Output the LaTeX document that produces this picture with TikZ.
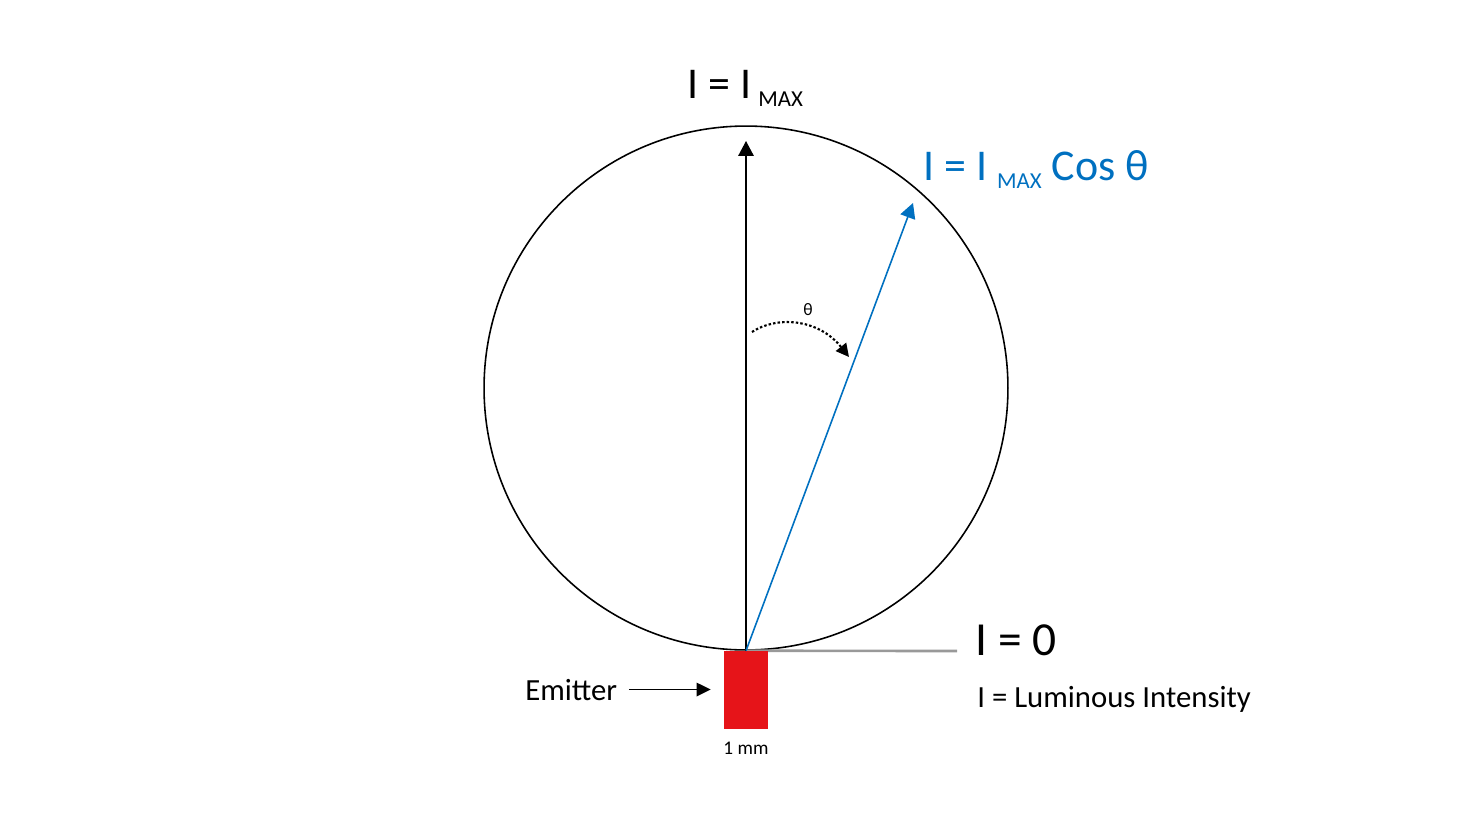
\documentclass[tikz,border=0pt]{standalone}
\usepackage{fontspec}
\setmainfont{Carlito}
\usetikzlibrary{arrows.meta,positioning}
\definecolor{beamblue}{RGB}{0,112,192}
\definecolor{chipred}{RGB}{230,20,25}
\newcommand\lowsub[1]{\raisebox{-0.2em}{\fontsize{13}{13}\selectfont #1}}

\begin{document}
\begin{tikzpicture}[x=0.02cm,y=-0.02cm,
            ray/.style={line width=0.9pt,-{Triangle[width=3.1mm,length=3mm]}},
            pointer/.style={line width=0.9pt,-{Triangle[width=2.7mm,length=2.8mm]}},
            sweep/.style={line width=1.2pt,dash pattern=on 1.4pt off 1.2pt,-{Triangle[width=2.6mm,length=2.6mm]}},
            big/.style={font=\fontsize{25}{28}\selectfont,inner sep=0,anchor=base west},
            small/.style={font=\fontsize{17.5}{20}\selectfont,inner sep=0,anchor=base west}
            ]
            \useasboundingbox (0,0) rectangle (1484,818);
            \node[circle,draw,line width=0.9pt,minimum size=10.48cm,inner sep=0] (sphere) at (746,388) {};
            \coordinate (src) at (sphere.south);
            \coordinate (maxtip) at (746,141);
            \coordinate (costip) at (913,203);
            \coordinate (groundend) at (957,651);
            \draw[black!40,line width=1.5pt] (src) -- (groundend);
            \node[fill=chipred,minimum width=0.88cm,minimum height=1.56cm,inner sep=0,anchor=north,
                label={[font=\fontsize{11}{12}\selectfont,inner sep=2pt,label distance=5pt]below:1 mm}] (emitter) at (src) {};
            \draw[ray] (src) -- (maxtip);
            \draw[ray,beamblue] (src) -- (costip);
            \draw[sweep] (752,332) .. controls (776,316) and (818,318) .. (849,357);
            \node[font=\fontsize{10}{11}\selectfont] (theta) at (808,310) {θ};
            \node[big] (imax) at (687,98) {I = I\kern4pt\lowsub{MAX}};
            \node[big,text=beamblue] (icos) at (923,180) {I = I \lowsub{MAX} Cos θ};
            \node[big,font=\fontsize{27}{30}\selectfont] (izero) at (975,655) {I = 0};
            \node[small] (legend) at (977,707) {I = Luminous Intensity};
            \node[small] (emlabel) at (525,700) {Emitter};
            \draw[pointer,shorten <=6.5pt,shorten >=7.4pt] (emlabel.east) -- (emlabel.east -| emitter.west);
\end{tikzpicture}
\end{document}
